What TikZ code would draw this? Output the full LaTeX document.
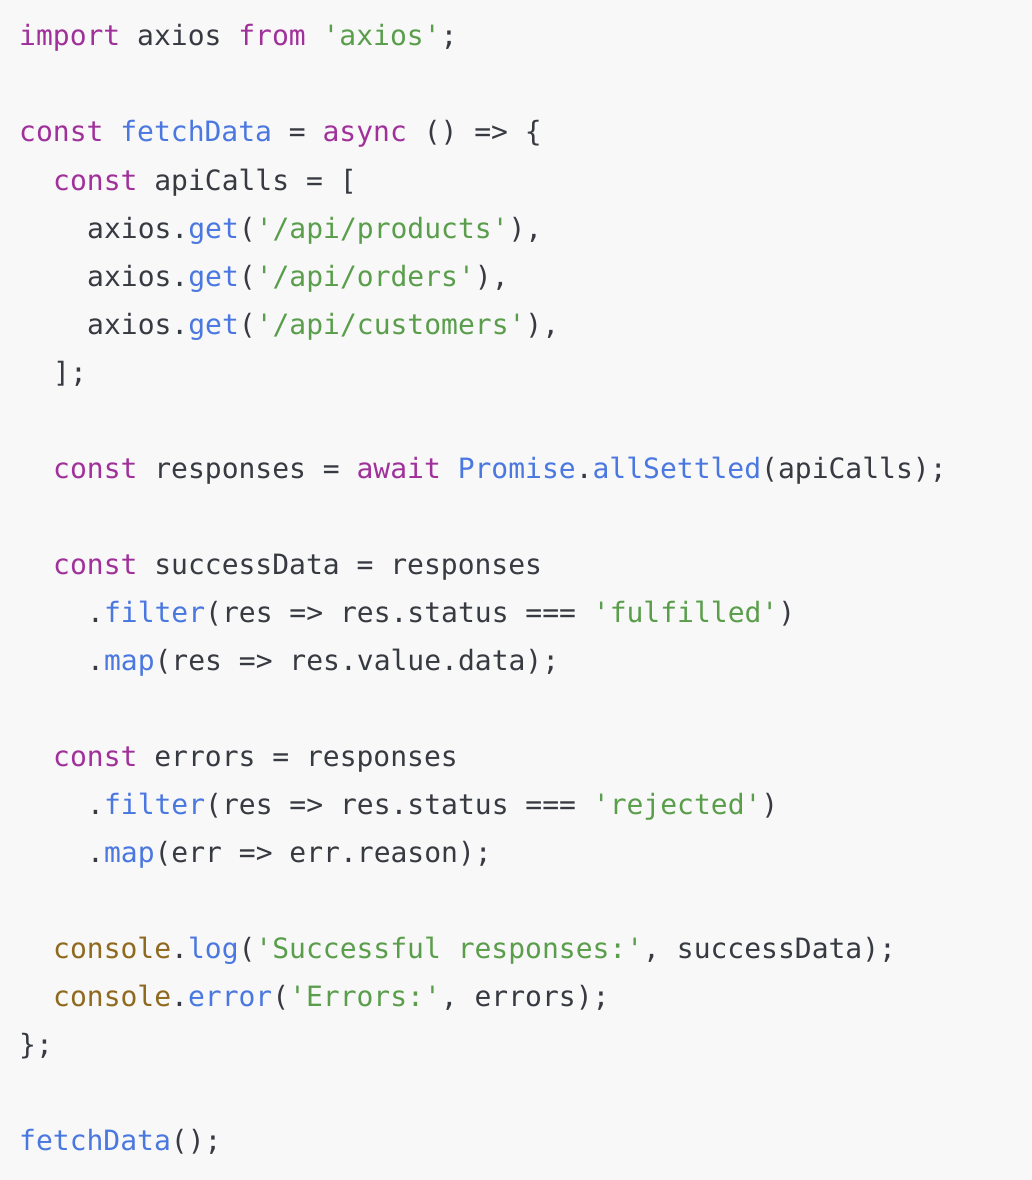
\documentclass[tikz,border=0pt]{standalone}
\usepackage{fontspec}
\setmonofont{DejaVu Sans Mono}
\definecolor{bg}{HTML}{F8F8F8}
\definecolor{tx}{HTML}{383A42}
\definecolor{kwc}{HTML}{A0309A}
\definecolor{fnc}{HTML}{4A78E0}
\definecolor{stc}{HTML}{5A9E4C}
\definecolor{cnc}{HTML}{8F6A1E}
\newcommand{\Ckw}[1]{\textcolor{kwc}{#1}}
\newcommand{\Cfn}[1]{\textcolor{fnc}{#1}}
\newcommand{\Cst}[1]{\textcolor{stc}{#1}}
\newcommand{\Ccn}[1]{\textcolor{cnc}{#1}}
\tikzset{code/.style={anchor=base west,inner sep=0pt,text=tx,font=\fontsize{28}{34}\ttfamily}}
\begin{document}
\begin{tikzpicture}[x=1pt,y=1pt]
\fill[bg] (0,0) rectangle (1032,-1180);
\useasboundingbox (0,0) rectangle (1032,-1180);
\def\ia{19}\def\ib{53}\def\ic{87}
\node[code] (l1) at (\ia,-46) {\Ckw{import} axios \Ckw{from} \Cst{'axios'};};
\node[code] (l2) at (\ia,-142) {\Ckw{const} \Cfn{fetchData} = \Ckw{async} () => \{};
\node[code] (l3) at (\ib,-190) {\Ckw{const} apiCalls = [};
\node[code] (l4) at (\ic,-238) {axios.\Cfn{get}(\Cst{'/api/products'}),};
\node[code] (l5) at (\ic,-286) {axios.\Cfn{get}(\Cst{'/api/orders'}),};
\node[code] (l6) at (\ic,-334) {axios.\Cfn{get}(\Cst{'/api/customers'}),};
\node[code] (l7) at (\ib,-382) {];};
\node[code] (l8) at (\ib,-478) {\Ckw{const} responses = \Ckw{await} \Cfn{Promise}.\Cfn{allSettled}(apiCalls);};
\node[code] (l9) at (\ib,-574) {\Ckw{const} successData = responses};
\node[code] (l10) at (\ic,-622) {.\Cfn{filter}(res => res.status === \Cst{'fulfilled'})};
\node[code] (l11) at (\ic,-670) {.\Cfn{map}(res => res.value.data);};
\node[code] (l12) at (\ib,-766) {\Ckw{const} errors = responses};
\node[code] (l13) at (\ic,-814) {.\Cfn{filter}(res => res.status === \Cst{'rejected'})};
\node[code] (l14) at (\ic,-862) {.\Cfn{map}(err => err.reason);};
\node[code] (l15) at (\ib,-958) {\Ccn{console}.\Cfn{log}(\Cst{'Successful responses:'}, successData);};
\node[code] (l16) at (\ib,-1006) {\Ccn{console}.\Cfn{error}(\Cst{'Errors:'}, errors);};
\node[code] (l17) at (\ia,-1054) {\};};
\node[code] (l18) at (\ia,-1150) {\Cfn{fetchData}();};
\end{tikzpicture}
\end{document}
